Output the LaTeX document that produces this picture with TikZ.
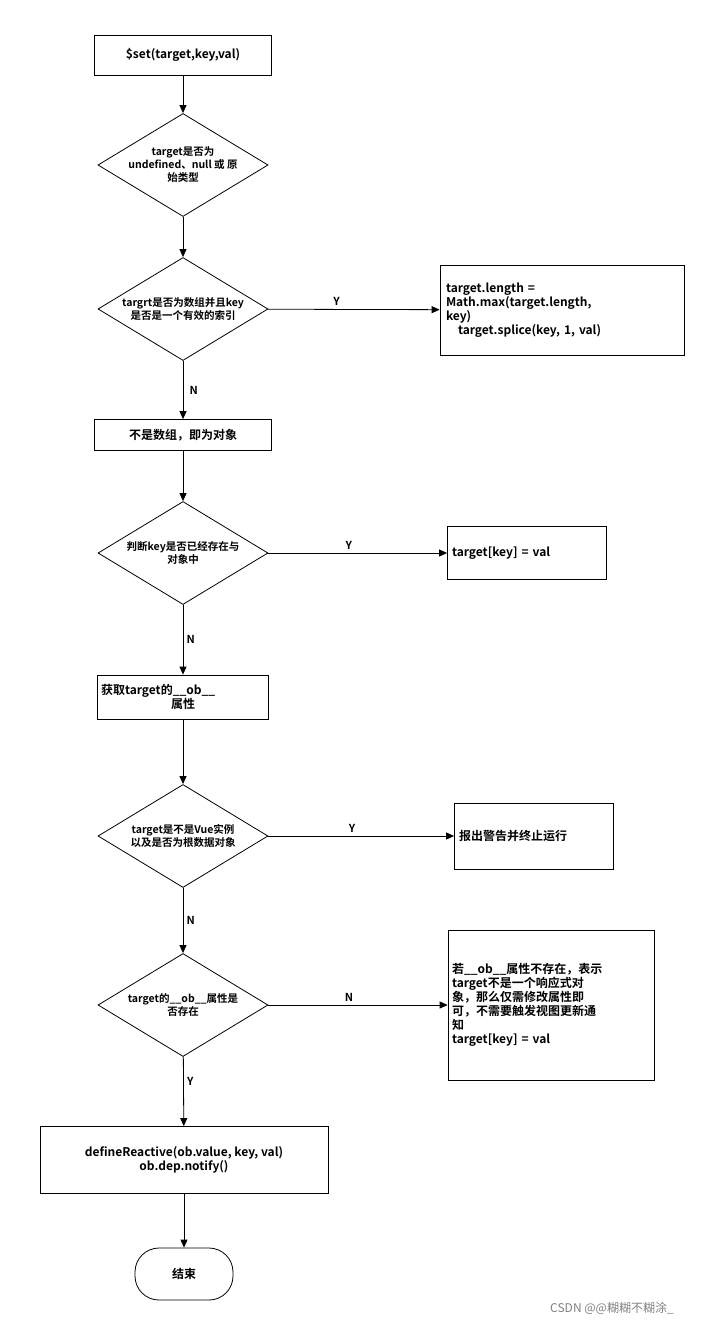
\documentclass[tikz,border=0pt]{standalone}
\usepackage{fontspec}
\setmainfont{Noto Sans CJK SC}[BoldFont={Noto Sans CJK SC Bold}]
\usetikzlibrary{shapes.geometric,arrows.meta}
\begin{document}
\begin{tikzpicture}[x=1pt,y=-1pt,
  every node/.style={font=\bfseries\fontsize{12}{14}\selectfont},
  box/.style={draw,thick,minimum width=#1,align=center,inner sep=2pt},
  dia/.style={draw,thick,diamond,aspect=1.7,minimum width=170pt,minimum height=103pt,inner sep=0pt,align=center,font=\bfseries\fontsize{10.5}{13}\selectfont},
  arr/.style={thick,-{Triangle[length=8pt,width=7pt]}},
  lab/.style={font=\bfseries\fontsize{11}{13}\selectfont}]
\useasboundingbox (0,0) rectangle (727,1327);
\node[box=177pt,minimum height=40pt] (n1) at (183,55) {\$set(target,key,val)};
\node[dia] (d1) at (183,165) {target是否为\\undefined、null 或 原\\始类型};
\node[dia] (d2) at (183,309) {targrt是否为数组并且key\\是否是一个有效的索引};
\node[box=244pt,minimum height=90pt,align=left,text width=232pt] (b1) at (562,310) {target.length =\\Math.max(target.length,\\key)\\\hspace*{12pt}target.splice(key, 1, val)};
\node[box=177pt,minimum height=31pt] (n2) at (183,435) {不是数组，即为对象};
\node[dia] (d3) at (183,553) {判断key是否已经存在与\\对象中};
\node[box=159pt,minimum height=53pt,text width=150pt,align=left] (b2) at (527,553) {target[key] = val};
\node[box=171pt,minimum height=44pt,text width=164pt,align=left] (n3) at (183,697) {获取target的\_\_ob\_\_\\\hspace*{70pt}属性};
\node[dia] (d4) at (183,836) {target是不是Vue实例\\以及是否为根数据对象};
\node[box=159pt,minimum height=66pt,text width=150pt,align=left] (b3) at (534,836) {报出警告并终止运行};
\node[dia] (d5) at (183,1005) {target的\_\_ob\_\_属性是\\否存在};
\node[box=206pt,minimum height=150pt,text width=198pt,align=left] (b4) at (551,1005) {若\_\_ob\_\_属性不存在，表示\\target不是一个响应式对\\象，那么仅需修改属性即\\可，不需要触发视图更新通\\知\\target[key] = val};
\node[box=288pt,minimum height=67pt] (n4) at (184,1160) {defineReactive(ob.value, key, val)\\ob.dep.notify()};
\node[draw,thick,rounded corners=24pt,minimum width=98pt,minimum height=52pt] (e) at (184,1274) {结束};
\draw[arr] (n1) -- (d1);
\draw[arr] (d1) -- (d2);
\draw[arr] (d2) -- (b1) node[lab,pos=0.4,above] {Y};
\draw[arr] (d2) -- (n2) node[lab,midway,right,xshift=3pt] {N};
\draw[arr] (n2) -- (d3);
\draw[arr] (d3) -- (b2) node[lab,pos=0.45,above] {Y};
\draw[arr] (d3) -- (n3) node[lab,midway,right] {N};
\draw[arr] (n3) -- (d4);
\draw[arr] (d4) -- (b3) node[lab,pos=0.45,above] {Y};
\draw[arr] (d4) -- (d5) node[lab,midway,right] {N};
\draw[arr] (d5) -- (b4) node[lab,pos=0.45,above] {N};
\draw[arr] (d5) -- (n4) node[lab,pos=0.35,right] {Y};
\draw[arr] (n4) -- (e);
\node[text=gray,font=\fontsize{12}{14}\selectfont] (w) at (612,1308) {CSDN @@糊糊不糊涂\_};
\end{tikzpicture}
\end{document}
